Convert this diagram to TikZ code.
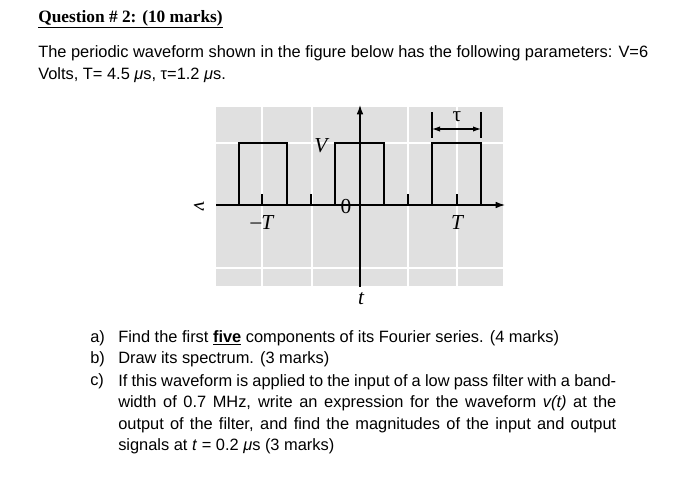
\documentclass[tikz,border=0pt]{standalone}
\usepackage{fontspec}
\setmainfont{Liberation Sans}
\newfontfamily\serif{Liberation Serif}
\usetikzlibrary{arrows.meta}
\begin{document}
\begin{tikzpicture}[x=0.75pt,y=-0.75pt,
  txt/.style={anchor=base west,inner sep=0pt,font=\fontsize{12.3}{16.1}\selectfont},
  lbl/.style={inner sep=0pt,font=\serif\itshape\fontsize{16}{18}\selectfont},
  wave/.style={line width=1.3pt},
  ax/.style={line width=0.9pt,-{Latex[length=7pt,width=5pt]}}]
\useasboundingbox (0,0) rectangle (694,504);
% background grid
\fill[black!12] (216,107) rectangle (503,286);
\foreach \x in {262,312,408,457} \draw[white,line width=1.5pt] (\x,107) -- (\x,286);
\foreach \y in {143,268} \draw[white,line width=1.5pt] (216,\y) -- (503,\y);
% axes
\coordinate (xl) at (216,205); \coordinate (xr) at (505,205);
\coordinate (yb) at (360,287); \coordinate (yt) at (360,105);
\draw[ax] (xl) -- (xr);
\draw[ax] (yb) -- (yt);
% ticks
\foreach \x in {262,311,408,457} \draw[line width=0.8pt] (\x,205) -- (\x,194);
% waveform
\draw[wave] (216,205) -- (239,205) -- (239,143) -- (287,143) -- (287,205) -- (335,205) -- (335,143) -- (384,143) -- (384,205) -- (432,205) -- (432,143) -- (481,143) -- (481,205);
% tau
\coordinate (ta) at (432,129); \coordinate (tb) at (481,129);
\draw[line width=0.8pt] (432,112) -- (432,138) (481,112) -- (481,138);
\draw[line width=0.8pt,{Latex[length=6pt,width=4pt]}-{Latex[length=6pt,width=4pt]}] (ta) -- (tb);
\node[lbl] (tau) at (457,117) {\upshape τ};
\node[lbl] (V) at (321,146) {V};
\node[inner sep=0pt,font=\serif\fontsize{16}{18}\selectfont] (zero) at (346,207) {0};
\node[lbl] (mT) at (262,223) {\upshape\raisebox{0.2ex}{–}\itshape T};
\node[lbl] (T) at (457,223) {T};
\node[lbl] (t) at (361,299) {t};
\node[lbl,rotate=-90] (nu) at (199,206) {v};
% text
\node[anchor=base west,inner sep=0pt,font=\serif\bfseries\fontsize{13}{15}\selectfont] (title) at (38,22) {\underline{Question \# 2: (10 marks)}};
\node[txt] (l1) at (38,57) {The periodic waveform shown in the figure below has the following parameters: V=6};
\node[txt] (l2) at (38,79) {Volts, T= 4.5 \textit{μ}s, τ=1.2 \textit{μ}s.};
\node[txt] (a) at (90,342) {a)};
\node[txt] at (118,342) {Find the first \textbf{\underline{five}} components of its Fourier series. (4 marks)};
\node[txt] (b) at (90,363) {b)};
\node[txt] at (118,363) {Draw its spectrum. (3 marks)};
\node[txt] (c) at (90,385) {c)};
\node[txt,anchor=north west,text width=373.5pt,align=justify] at (118,374) {If this waveform is applied to the input of a low pass filter with a bandwidth of 0.7 MHz, write an expression for the waveform \textit{v(t)} at the output of the filter, and find the magnitudes of the input and output signals at \textit{t} = 0.2 \textit{μ}s (3 marks)};
\end{tikzpicture}
\end{document}
